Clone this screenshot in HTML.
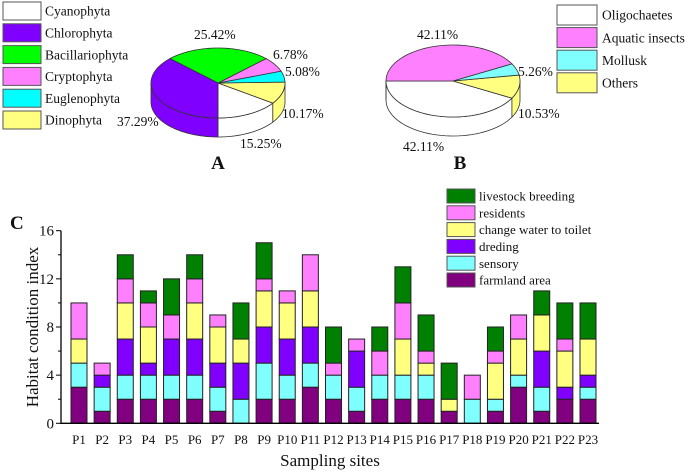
<!DOCTYPE html>
<html><head><meta charset="utf-8"><style>
body{margin:0;background:#fff;}
svg text{font-family:"Liberation Serif",serif;fill:#111;}
</style></head><body>
<svg id="fig" width="685" height="471" viewBox="0 0 685 471" xmlns="http://www.w3.org/2000/svg">
<g id="pieA"></g>
<g id="pieB"></g>
<g id="legA"></g>
<g id="legB"></g>
<text x="218" y="169" font-size="19" font-weight="bold" text-anchor="middle">A</text>
<text x="460" y="169" font-size="19" font-weight="bold" text-anchor="middle">B</text>
<text x="10" y="229" font-size="19" font-weight="bold">C</text>
<g id="bars"></g>
<g id="legC"></g>
<text x="330" y="466" font-size="17" text-anchor="middle">Sampling sites</text>
<text transform="translate(38,327) rotate(-90)" font-size="17" text-anchor="middle">Habitat condition index</text>
</svg>
<script>
// Pie A data
const pieANames = ["Cyanophyta","Chlorophyta","Bacillariophyta","Cryptophyta","Euglenophyta","Dinophyta"];
const pieAValues = [15.25,37.29,25.42,6.78,5.08,10.17];
// Pie B data
const pieBNames = ["Oligochaetes","Aquatic insects","Mollusk","Others"];
const pieBValues = [42.11,42.11,5.26,10.53];
// Bar chart C data
const sites = ["P1","P2","P3","P4","P5","P6","P7","P8","P9","P10","P11","P12","P13","P14","P15","P16","P17","P18","P19","P20","P21","P22","P23"];
const seriesNames = ["farmland area","sensory","dreding","change water to toilet","residents","livestock breeding"];
const farmland = [3,1,2,2,2,2,1,0,2,2,3,2,1,2,2,2,1,0,1,3,1,2,2];
const sensory  = [2,2,2,2,2,2,2,2,3,2,2,2,2,2,2,2,0,2,1,1,2,0,1];
const dredging = [0,1,3,1,3,3,2,3,3,3,3,0,3,0,0,0,0,0,0,0,3,1,1];
const changeWater = [2,0,3,3,0,3,3,2,3,3,3,0,0,0,3,1,1,0,3,3,3,3,3];
const residents = [3,1,2,2,2,2,1,0,1,1,3,1,1,2,3,1,0,2,1,2,0,1,0];
const livestock = [0,0,2,1,3,2,0,3,3,0,0,3,0,2,3,3,3,0,2,0,2,3,3];
const yTicks = [0,4,8,12,16];

const NS="http://www.w3.org/2000/svg";
function mk(tag,attrs,parent){const e=document.createElementNS(NS,tag);for(const k in attrs)e.setAttribute(k,attrs[k]);parent.appendChild(e);return e;}

function drawPie(g,vals,order,colors,cx,cy,rx,ry,depth,startDeg,labels){
  const D=Math.PI/180;
  const pt=(t,dy)=>[cx+rx*Math.cos(t*D),cy+ry*Math.sin(t*D)+(dy||0)];
  let slices=[];let a=startDeg;
  order.forEach(i=>{const v=vals[i];const hi=a,lo=a-v/100*360;slices.push({lo,hi,i});a=lo;});
  slices.forEach(s=>{
    for(const k of [-720,-360,0,360]){
      const l=Math.max(s.lo+k,0),h=Math.min(s.hi+k,180);
      if(h>l){
        let pts=[];
        for(let j=0;j<=40;j++)pts.push(pt(l+(h-l)*j/40,0));
        for(let j=40;j>=0;j--)pts.push(pt(l+(h-l)*j/40,depth));
        const p=mk('polygon',{points:pts.map(q=>q.join(',')).join(' '),fill:colors[s.i],stroke:'#333','stroke-width':0.8},g);
        
        
      }
    }
  });
  slices.forEach(s=>{
    let pts=[[cx,cy]];
    for(let j=0;j<=60;j++){pts.push(pt(s.lo+(s.hi-s.lo)*j/60,0));}
    const p=mk('polygon',{points:pts.map(q=>q.join(',')).join(' '),fill:colors[s.i],stroke:'#333','stroke-width':0.8},g);
    
    
  });
  labels.forEach(l=>{
    const t=mk('text',{x:l[1],y:l[2],'font-size':13.5},g);
    t.textContent=vals[l[0]].toFixed(2)+'%';
    
    
  });
}
drawPie(document.getElementById('pieA'),pieAValues,[0,5,4,3,2,1],["#fff","#8000ff","#00ff00","#ff80ff","#00ffff","#ffff80"],218,83,67,35,19,90,
  [[2,194,39],[3,273,59],[4,285,76],[5,282,118],[0,240,148],[1,117,126]]);
drawPie(document.getElementById('pieB'),pieBValues,[0,3,2,1],["#fff","#ff80ff","#80ffff","#ffff80"],453,81,67,36,19,180,
  [[1,417,39],[2,518,76],[3,518,118],[0,403,151]]);

function legend(g,names,colors,x,y0,step,w,h,tx,fs){
  names.forEach((n,i)=>{
    const r=mk('rect',{x:x,y:y0+i*step,width:w,height:h,fill:colors[i],stroke:'#555','stroke-width':1},g);
    
    
    const t=mk('text',{x:tx,y:y0+i*step+h/2+fs*0.35,'font-size':fs},g);
    t.textContent=n;
    
    
  });
}
legend(document.getElementById('legA'),pieANames,["#fff","#8000ff","#00ff00","#ff80ff","#00ffff","#ffff80"],3,2,21.8,38,18,45,13.5);
legend(document.getElementById('legB'),pieBNames,["#fff","#ff80ff","#80ffff","#ffff80"],557,5,22.6,40,20,602,13.5);

const g=document.getElementById('bars');
const x0=61,x1=599,yBase=423.3,yTop=230.7,yMax=16;
const yS=v=>yBase-(v/yMax)*(yBase-yTop);
const step=(588-79)/22;
const xS=i=>79+i*step;
const series=[farmland,sensory,dredging,changeWater,residents,livestock];
const sColors=["#800080","#80ffff","#8000ff","#ffff80","#ff80ff","#008000"];
sites.forEach((s,i)=>{
  let cum=0;
  series.forEach((arr,k)=>{
    const v=arr[i];
    if(v>0){
      const r=mk('rect',{x:xS(i)-8,y:yS(cum+v),width:16,height:yS(cum)-yS(cum+v),fill:sColors[k],stroke:'#222','stroke-width':1},g);
      
      
    }
    cum+=v;
  });
  const t=mk('text',{x:xS(i),y:444,'font-size':13,'text-anchor':'middle'},g);
  t.textContent=s;
  
  
});
const ax=mk('path',{d:`M${x0},${yTop} V${yBase} H${x1}`,stroke:'#000','stroke-width':1.3,fill:'none'},g);


for(let v=0;v<=16;v+=2){
  const tk=mk('line',{x1:x0-(v%4==0?5:3),x2:x0,y1:yS(v),y2:yS(v),stroke:'#000','stroke-width':1},g);
  
  
}
yTicks.forEach(v=>{
  const t=mk('text',{x:x0-7,y:yS(v)+5,'font-size':15,'text-anchor':'end'},g);
  t.textContent=v;
  
  
});
legend(document.getElementById('legC'),seriesNames.slice().reverse(),sColors.slice().reverse(),447,189,16.8,28,14,479,13);
</script>
</body></html>
